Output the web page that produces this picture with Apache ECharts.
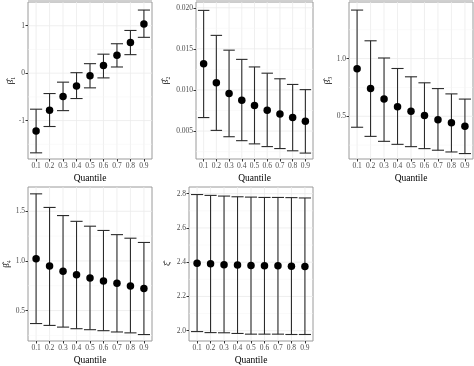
<!DOCTYPE html>
<html><head><meta charset="utf-8">
<script src="https://cdn.jsdelivr.net/npm/echarts@6/dist/echarts.min.js"></script>
<style>html,body{margin:0;padding:0;background:#fff}#c{width:474px;height:366px}</style>
</head><body><div id="c"></div>
<script>
const quantiles = ['0.1','0.2','0.3','0.4','0.5','0.6','0.7','0.8','0.9'];

const est1 = [-1.22,-0.78,-0.49,-0.27,-0.055,0.16,0.375,0.645,1.035];
const lo1  = [-1.68,-1.125,-0.79,-0.535,-0.31,-0.10,0.13,0.39,0.755];
const hi1  = [-0.76,-0.43,-0.19,0.01,0.20,0.40,0.62,0.90,1.33];

const est2 = [0.01319,0.01088,0.00956,0.00875,0.00812,0.00752,0.00707,0.00664,0.0062];
const lo2  = [0.00664,0.00508,0.00431,0.00383,0.00344,0.00311,0.00287,0.0026,0.00232];
const hi2  = [0.01968,0.01664,0.01484,0.01372,0.0128,0.01204,0.01136,0.01067,0.01004];

const est3 = [0.911,0.74,0.649,0.583,0.543,0.506,0.471,0.443,0.414];
const lo3  = [0.405,0.326,0.283,0.257,0.237,0.22,0.206,0.191,0.177];
const hi3  = [1.42,1.154,1.005,0.914,0.842,0.79,0.74,0.694,0.649];

const est4 = [1.023,0.948,0.895,0.86,0.827,0.797,0.775,0.748,0.722];
const lo4  = [0.369,0.35,0.333,0.317,0.307,0.297,0.284,0.275,0.258];
const hi4  = [1.676,1.539,1.457,1.399,1.35,1.307,1.265,1.229,1.186];

const est5 = [2.394,2.391,2.385,2.383,2.381,2.379,2.379,2.377,2.3755];
const lo5  = [1.995,1.989,1.988,1.984,1.980,1.980,1.980,1.978,1.978];
const hi5  = [2.795,2.790,2.786,2.782,2.780,2.778,2.778,2.777,2.775];

const yTitles = ['β̂₁','β̂₂','β̂₃','β̂₄','ξ̂'];
const yMajor = [[-1,0,1],[0.005,0.010,0.015,0.020],[0.5,1.0],[0.5,1.0,1.5],[2.0,2.2,2.4,2.6,2.8]];
const yMinor = [[-1.5,-0.5,0.5,1.5],[0.0025,0.0075,0.0125,0.0175],[0.25,0.75,1.25],[0.25,0.75,1.25],[2.1,2.3,2.5,2.7]];
const yDecimals = [0,3,1,1,1];

const panels = [
  {est:est1, lo:lo1, hi:hi1, ymin:-1.81, ymax:1.5,   box:[28,2,124,157]},
  {est:est2, lo:lo2, hi:hi2, ymin:0.0016, ymax:0.0207, box:[196,2,117,157]},
  {est:est3, lo:lo3, hi:hi3, ymin:0.13, ymax:1.49,   box:[349,2,124,157]},
  {est:est4, lo:lo4, hi:hi4, ymin:0.193, ymax:1.745, box:[28,187,124,159]},
  {est:est5, lo:lo5, hi:hi5, ymin:1.94, ymax:2.839,  box:[189,187,124,159]}
];

const FONT = 'Liberation Serif';
const grid=[], xAxis=[], yAxis=[], series=[];
const xIdx = quantiles.map((q,i)=>i+1);

panels.forEach((p,k)=>{
  grid.push({left:p.box[0], top:p.box[1], width:p.box[2], height:p.box[3],
    show:true, borderColor:'#9a9a9a', borderWidth:1, backgroundColor:'#fff'});
  xAxis.push({gridIndex:k, type:'value', min:0.4, max:9.6, position:'bottom',
    axisLine:{show:false, onZero:false}, splitLine:{show:false},
    axisTick:{show:true, customValues:xIdx, length:2.5, lineStyle:{color:'#333'}},
    axisLabel:{customValues:xIdx, formatter:v=>quantiles[Math.round(v)-1]||'',
      fontSize:7.5, color:'#4d4d4d', margin:3, fontFamily:FONT},
    name:'Quantile', nameLocation:'middle', nameGap:14,
    nameTextStyle:{fontSize:9.5, color:'#000', fontFamily:FONT}});
  yAxis.push({gridIndex:k, type:'value', min:p.ymin, max:p.ymax, position:'left',
    axisLine:{show:false, onZero:false}, splitLine:{show:false},
    axisTick:{show:true, customValues:yMajor[k], length:2.5, lineStyle:{color:'#333'}},
    axisLabel:{customValues:yMajor[k], formatter:v=>v.toFixed(yDecimals[k]),
      fontSize:7.5, color:'#4d4d4d', margin:3, fontFamily:FONT},
    name:yTitles[k], nameLocation:'middle', nameRotate:90,
    nameGap:(k===1?26:(k===0?12:17)),
    nameTextStyle:{fontSize:9, color:'#000', fontFamily:FONT}});
  const gl = [];
  xIdx.forEach(x=>gl.push([x, p.ymin, 0]));
  yMajor[k].forEach(v=>gl.push([1, v, 1]));
  yMinor[k].forEach(v=>{ if(v>p.ymin && v<p.ymax) gl.push([1, v, 2]); });
  series.push({type:'custom', xAxisIndex:k, yAxisIndex:k, z:0, silent:true,
    encode:{x:0,y:1}, data:gl,
    renderItem:(params, api)=>{
      const cs = params.coordSys;
      const kind = api.value(2);
      const pt = api.coord([api.value(0), api.value(1)]);
      let shape;
      if(kind===0) shape={x1:pt[0],y1:cs.y,x2:pt[0],y2:cs.y+cs.height};
      else shape={x1:cs.x,y1:pt[1],x2:cs.x+cs.width,y2:pt[1]};
      return {type:'line', shape:shape,
        style:{stroke: kind===2?'#f4f4f4':'#ebebeb', lineWidth: kind===2?0.5:0.8}};
    }});
  series.push({type:'custom', xAxisIndex:k, yAxisIndex:k, z:2, silent:true,
    encode:{x:0,y:[1,2]},
    data:p.lo.map((l,i)=>[i+1, l, p.hi[i]]),
    renderItem:(params, api)=>{
      const x = api.value(0);
      const a = api.coord([x, api.value(1)]);
      const b = api.coord([x, api.value(2)]);
      const hw = api.size([0.9,0])[0]/2;
      const st = {stroke:'#2b2b2b', lineWidth:1.1};
      return {type:'group', children:[
        {type:'line', shape:{x1:a[0],y1:a[1],x2:b[0],y2:b[1]}, style:st},
        {type:'line', shape:{x1:a[0]-hw,y1:a[1],x2:a[0]+hw,y2:a[1]}, style:st},
        {type:'line', shape:{x1:b[0]-hw,y1:b[1],x2:b[0]+hw,y2:b[1]}, style:st}
      ]};
    }});
  series.push({type:'scatter', xAxisIndex:k, yAxisIndex:k, z:3, silent:true,
    symbol:'circle', symbolSize:7.5, itemStyle:{color:'#000', opacity:1},
    data:p.est.map((v,i)=>[i+1, v])});
});

const chart = echarts.init(document.getElementById('c'), null, {renderer:'canvas'});
chart.setOption({
  animation:false, backgroundColor:'#fff',
  grid, xAxis, yAxis, series,
  graphic:[
    {type:'rect', shape:{x:28,y:0,width:124,height:1.5}, style:{fill:'#d0d0d0'}},
    {type:'rect', shape:{x:196,y:0,width:117,height:1.5}, style:{fill:'#d0d0d0'}},
    {type:'rect', shape:{x:349,y:0,width:124,height:1.5}, style:{fill:'#d0d0d0'}}
  ]
});
</script>
</body></html>
